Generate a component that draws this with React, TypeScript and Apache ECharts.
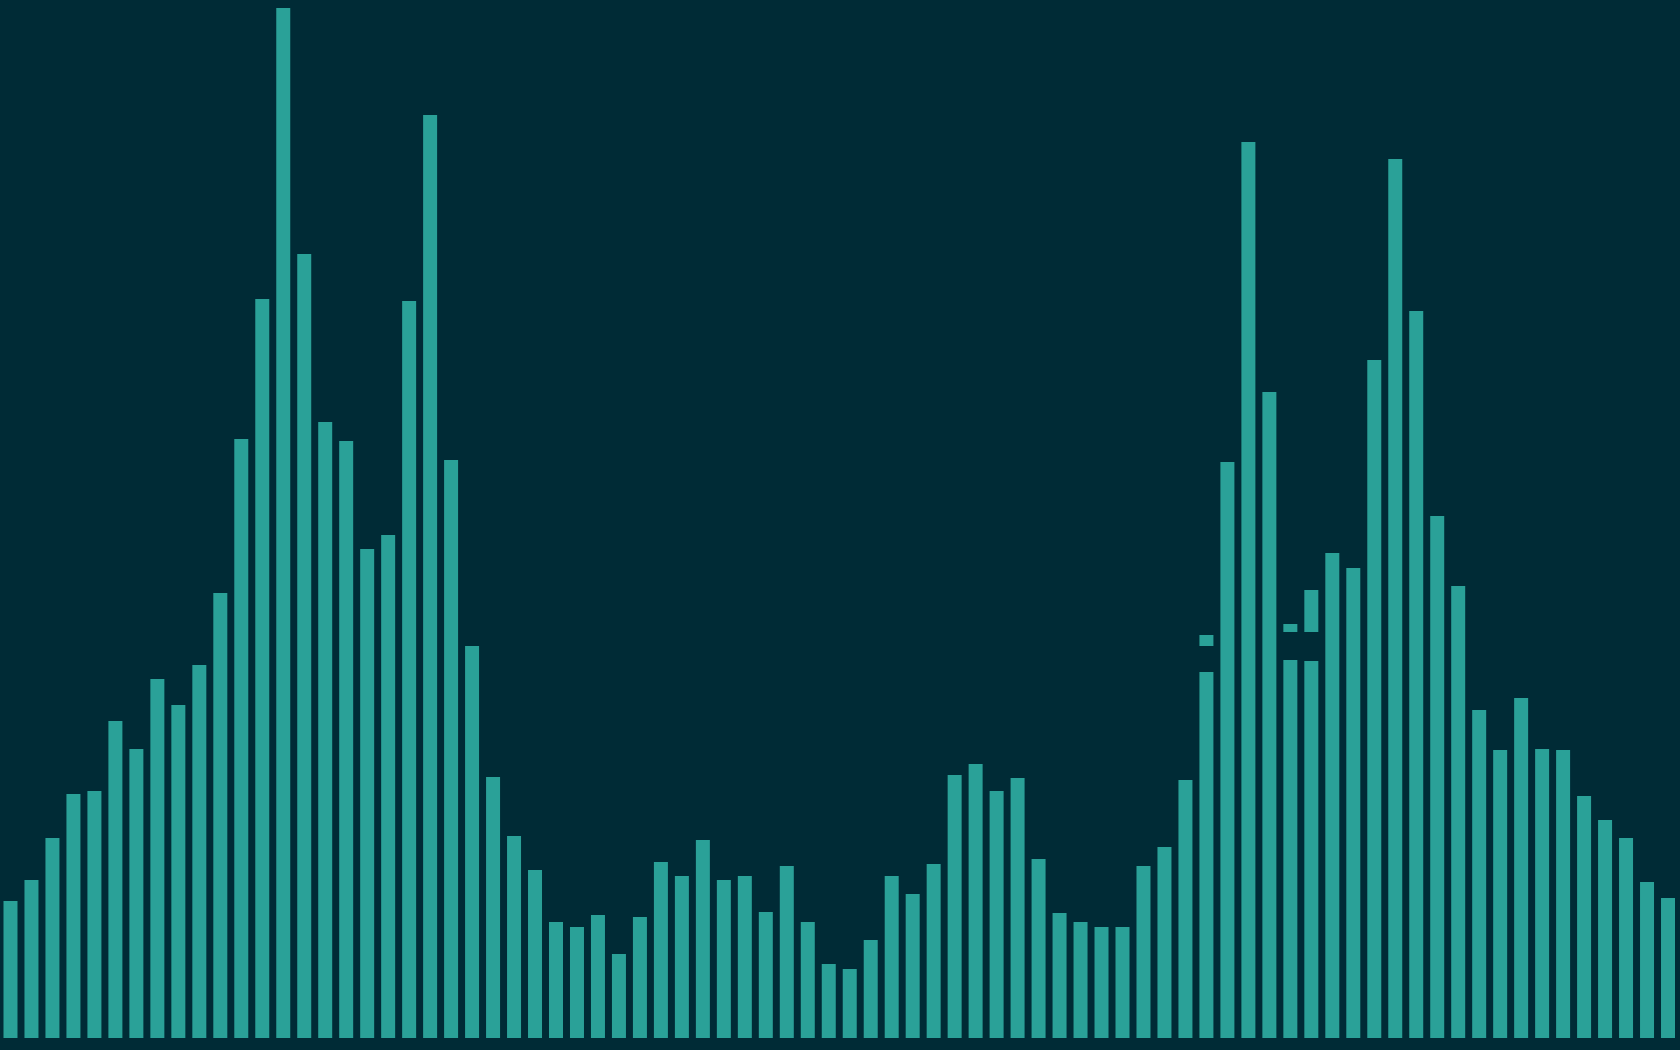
import { useEffect, useRef } from 'react';
import * as echarts from 'echarts';

// solarized dark palette
const BG = '#002b36';
const BAR = '#2aa198';

// 80 bars, heights (units = px of the original plot)
const values = [
  137, 158, 200, 244, 247, 317, 289, 359, 333, 373,
  445, 599, 739, 1030, 784, 616, 597, 489, 503, 737,
  923, 578, 392, 261, 202, 168, 116, 111, 123, 84,
  121, 176, 162, 198, 158, 162, 126, 172, 116, 74,
  69, 98, 162, 144, 174, 263, 274, 247, 260, 179,
  125, 116, 111, 111, 172, 191, 258, 366, 576, 896,
  646, 378, 377, 485, 470, 678, 879, 727, 522, 452,
  328, 288, 340, 289, 288, 242, 218, 200, 156, 140,
];

// a few bars carry a detached cap above an empty gap
const breakIndex = [57, 61, 62];
const breakGap = [26, 28, 29];
const breakCap = [11, 8, 42];

const categories = values.map((_, i) => String(i + 1));

const App = () => {
  const chartRef = useRef<HTMLDivElement>(null);

  useEffect(() => {
    if (!chartRef.current) return;
    const chart = echarts.init(chartRef.current, undefined, { renderer: 'svg' });

    const gapData: (number | string)[] = values.map(() => '-');
    const capData: (number | string)[] = values.map(() => '-');
    breakIndex.forEach((idx, k) => {
      gapData[idx] = breakGap[k];
      capData[idx] = breakCap[k];
    });

    chart.setOption({
      animation: false,
      backgroundColor: BG,
      grid: { left: -1.5, right: 1.5, top: 8, bottom: 12, containLabel: false },
      xAxis: {
        type: 'category',
        data: categories,
        show: false,
      },
      yAxis: {
        type: 'value',
        min: 0,
        max: 1030,
        show: false,
        splitLine: { show: false },
      },
      series: [
        {
          name: 'base',
          type: 'bar',
          stack: 'total',
          barWidth: 14,
          data: values,
          itemStyle: { color: BAR },
        },
        {
          name: 'gap',
          type: 'bar',
          stack: 'total',
          barWidth: 14,
          data: gapData,
          itemStyle: { color: 'transparent' },
        },
        {
          name: 'cap',
          type: 'bar',
          stack: 'total',
          barWidth: 14,
          data: capData,
          itemStyle: { color: BAR },
        },
      ],
    });

    const onResize = () => chart.resize();
    window.addEventListener('resize', onResize);
    return () => {
      window.removeEventListener('resize', onResize);
      chart.dispose();
    };
  }, []);

  useEffect(() => {
    document.body.style.margin = '0';
    document.body.style.background = BG;
  }, []);

  return <div ref={chartRef} style={{ width: '1680px', height: '1050px' }} />;
};

export default App;
